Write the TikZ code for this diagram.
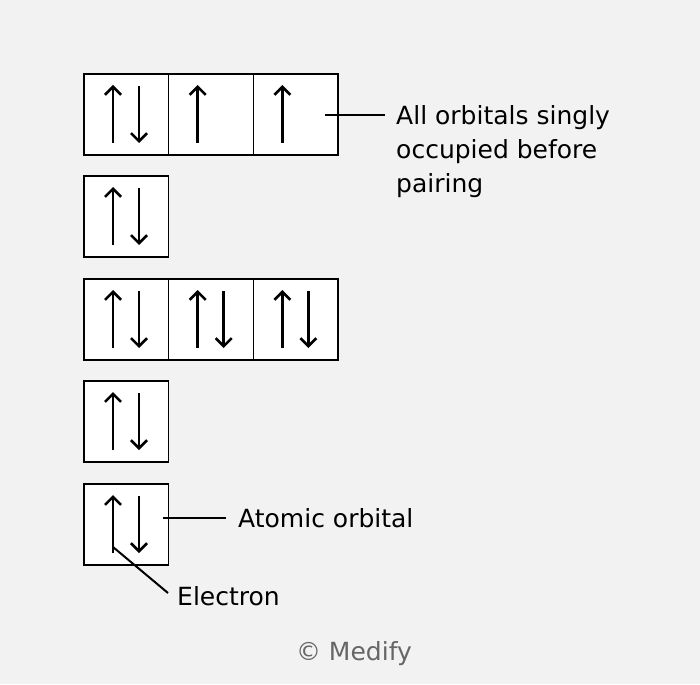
\documentclass[tikz,border=0pt]{standalone}
\usepackage{fontspec}
\setmainfont{DejaVu Sans}
\usetikzlibrary{arrows.meta,calc}
\begin{document}
\begin{tikzpicture}[x=1pt,y=-1pt,
  orb/.style={draw=black, fill=white, line width=1.5pt, minimum width=84.7pt, minimum height=81pt, inner sep=0pt, outer sep=0pt, anchor=north west},
  spin/.style={line width=2.6pt, -{Straight Barb[length=8pt,width=16pt,line width=2.6pt]}},
  lead/.style={line width=2pt},
  lbl/.style={font=\fontsize{25}{34}\selectfont, anchor=west, inner sep=0pt, align=left}]
\fill[fill={rgb,255:red,242;green,242;blue,242}] (0,0) rectangle (700,684);
\useasboundingbox (0,0) rectangle (700,684);
% row 1
\node[orb] (b11) at (84,74) {};
\node[orb] (b12) at (168.7,74) {};
\node[orb] (b13) at (253.4,74) {};
% row 2
\node[orb] (b21) at (84,176) {};
% row 3
\node[orb] (b31) at (84,279) {};
\node[orb] (b32) at (168.7,279) {};
\node[orb] (b33) at (253.4,279) {};
% row 4
\node[orb] (b41) at (84,381) {};
% row 5
\node[orb] (b51) at (84,484) {};
% arrows
\foreach \b in {b11,b21,b31,b32,b33,b41,b51}{
  \draw[spin] ($(\b.north west)+(29,69)$) -- ($(\b.north west)+(29,11)$);
  \draw[spin] ($(\b.north west)+(55,12)$) -- ($(\b.north west)+(55,69)$);
}
\foreach \b in {b12,b13}{
  \draw[spin] ($(\b.north west)+(29,69)$) -- ($(\b.north west)+(29,11)$);
}
% labels
\node[lbl] (tHund) at (396,152) {All orbitals singly\\occupied before\\pairing};
\node[lbl] (tOrb) at (238,518) {Atomic orbital};
\node[lbl] (tEl) at (177,596) {Electron};
\node[font=\fontsize{25}{30}\selectfont, text={rgb,255:red,102;green,102;blue,102}, inner sep=0pt] (copy) at (354,654) {© Medify};
% leaders
\coordinate (cH) at (325,115);
\coordinate (cO) at (163,518);
\coordinate (cE) at (113,547);
\draw[lead] (cH) -- ($(cH -| tHund.west)+(-11,0)$);
\draw[lead] (cO) -- ($(tOrb.west)+(-12,0)$);
\draw[lead] (cE) -- (168,593);
\end{tikzpicture}
\end{document}
